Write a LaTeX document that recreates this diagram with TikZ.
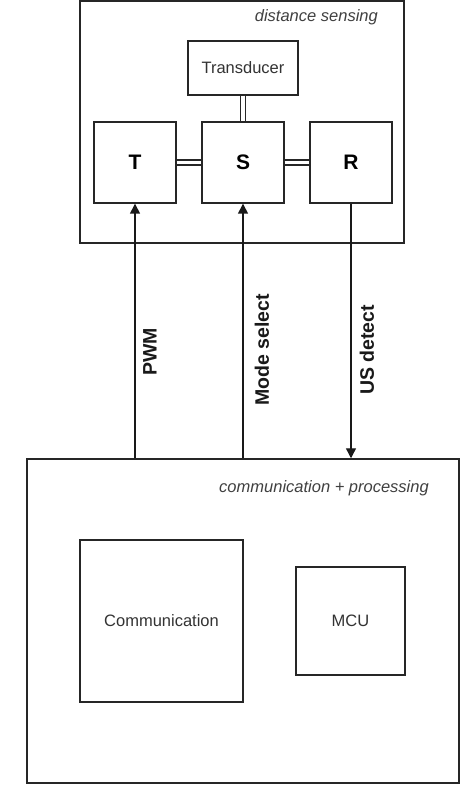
\documentclass[tikz,border=0pt]{standalone}
\usepackage{fontspec}
\setmainfont{Liberation Sans}
\usetikzlibrary{arrows.meta}
\begin{document}
\begin{tikzpicture}[x=1pt,y=-1pt,
  box/.style={draw=black!85, line width=1.4pt, inner sep=0pt, text=black!80,
    font=\fontsize{16.5}{19}\selectfont},
  bigbox/.style={draw=black!85, line width=1.5pt, inner sep=0pt},
  letter/.style={box, font=\fontsize{21}{24}\selectfont\bfseries, text=black},
  ttl/.style={inner sep=0pt, text=black!75, font=\fontsize{16.5}{19}\selectfont\itshape},
  lbl/.style={inner sep=0pt, rotate=90, text=black!90, font=\fontsize{19.5}{22}\selectfont\bfseries},
  dbl/.style={draw=black!85, double=white, double distance=3.5pt, line width=1.3pt},
  arr/.style={draw=black!90, line width=1.4pt, -{Triangle[length=10pt,width=10pt]}}]
\useasboundingbox (0,0) rectangle (474,810);
\fill[white] (0,0) rectangle (474,810);
% top container
\node[bigbox, minimum width=324pt, minimum height=242pt] (top) at (242,122) {};
\node[ttl, anchor=east] (toptitle) at (378,17) {distance sensing};
\node[box, minimum width=110pt, minimum height=54pt] (trans) at (243,68) {Transducer};
\node[letter, minimum width=82pt, minimum height=81pt] (T) at (135,162.5) {T};
\node[letter, minimum width=82pt, minimum height=81pt] (S) at (243,162.5) {S};
\node[letter, minimum width=82pt, minimum height=81pt] (R) at (351,162.5) {R};
\draw[dbl] (T) -- (S);
\draw[dbl] (S) -- (R);
\draw[dbl] (trans) -- (S);
% bottom container
\node[bigbox, minimum width=432pt, minimum height=324pt] (bot) at (243,621) {};
\node[ttl, anchor=east] (bottitle) at (429,488) {communication + processing};
\node[box, minimum width=163pt, minimum height=162pt] (comm) at (161.5,621) {Communication};
\node[box, minimum width=109pt, minimum height=108pt] (mcu) at (350.5,621) {MCU};
% connectors
\draw[arr] (T.south |- bot.north) -- (T.south);
\draw[arr] (S.south |- bot.north) -- (S.south);
\draw[arr] (R.south) -- (R.south |- bot.north);
\node[lbl] (pwm) at (150,352) {PWM};
\node[lbl] (mode) at (262,350) {Mode select};
\node[lbl] (us) at (367,350) {US detect};
\end{tikzpicture}
\end{document}
